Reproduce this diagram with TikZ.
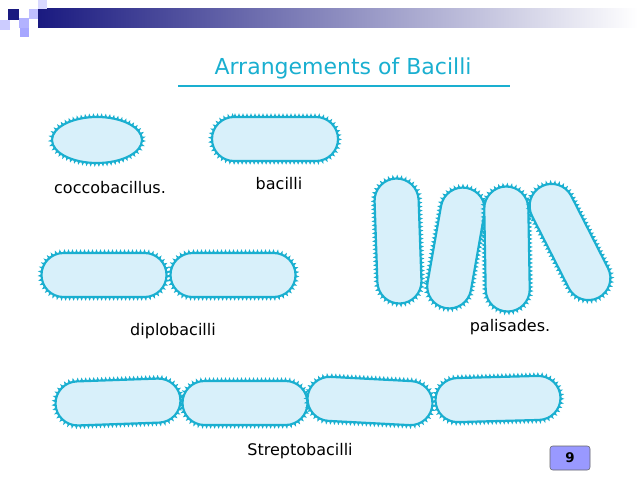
\documentclass[tikz,border=0pt]{standalone}
\usepackage{fontspec}
\setmainfont{DejaVu Sans}
\usetikzlibrary{decorations.pathmorphing}
\definecolor{cy}{HTML}{1AAFD0}
\definecolor{lb}{HTML}{D8F0FA}
\definecolor{nv}{HTML}{1A1A80}
\tikzset{
  fringe/.style={draw=cy,line width=0.8pt,decorate,decoration={zigzag,segment length=3pt,amplitude=1.8pt}},
  body/.style={draw=cy,line width=1.6pt,fill=lb},
  lab/.style={font=\fontsize{12}{14}\selectfont,text=black}}
% \bac{name}{cx}{cy}{length px}{rotation}
\newcommand\bac[5]{%
  \begin{scope}[shift={(#2,#3)},rotate=#5]
    \coordinate (#1) at (0,0);
    \pgfmathsetmacro\hl{#4/2-22}
    \path[fringe] (-\hl,-22) -- (\hl,-22) arc (-90:90:22) -- (-\hl,22) arc (90:270:22) -- cycle;
    \path[body] (-\hl,-22) -- (\hl,-22) arc (-90:90:22) -- (-\hl,22) arc (90:270:22) -- cycle;
  \end{scope}}
\begin{document}
\begin{tikzpicture}[x=0.75pt,y=-0.75pt]
\useasboundingbox (0,0) rectangle (638,478);
% header
\shade[left color=nv,right color=white] (38,9) rectangle (638,28);
\fill[nv] (8,9) rectangle (19,20);
\fill[blue!25!white] (29,9) rectangle (38,19);
\fill[blue!15!white] (38,0) rectangle (47,9);
\fill[blue!30!white] (19,18) rectangle (29,28);
\fill[blue!20!white] (0,20) rectangle (10,30);
\fill[blue!35!white] (20,28) rectangle (29,37);
\node (title) at (343,68) [text=cy,font=\fontsize{16.5}{20}\selectfont] {Arrangements of Bacilli};
\coordinate (l1) at (178,86); \coordinate (l2) at (510,86);
\draw[cy,line width=1.5pt] (l1) -- (l2);
% coccobacillus
\coordinate (cc) at (97,140);
\path[fringe] (cc) ellipse [x radius=45,y radius=23];
\path[body] (cc) ellipse [x radius=45,y radius=23];
\node (tcc) at (110,188) [lab] {coccobacillus.};
% bacilli
\bac{b}{275}{139}{126}{0}
\node (tb) at (279,184) [lab] {bacilli};
% diplo
\bac{d1}{104}{275}{125}{0}
\bac{d2}{233}{275}{125}{0}
\node (td) at (173,331) [lab] {diplobacilli};
% strepto
\bac{s1}{118}{402}{125}{2}
\bac{s2}{245}{403}{125}{0}
\bac{s3}{370}{401}{125}{-3}
\bac{s4}{498}{399}{125}{1.5}
\node (ts) at (300,451) [lab] {Streptobacilli};
% palisades
\bac{p1}{398}{241}{125}{92}
\bac{p2}{456}{248}{122}{80}
\bac{p3}{507}{249}{125}{91}
\bac{p4}{570}{242}{125}{117}
\node (tp) at (510,327) [lab] {palisades.};
% page number
\node (pg) at (570,458) [draw=black!60,fill=blue!40!white,rounded corners=2pt,minimum width=30pt,minimum height=18pt,font=\bfseries\fontsize{10}{12}\selectfont] {9};
\end{tikzpicture}
\end{document}
